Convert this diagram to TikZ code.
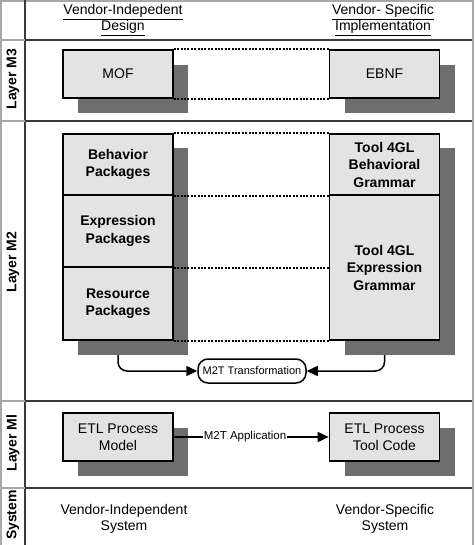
\documentclass[tikz,border=0pt]{standalone}
\usepackage{fontspec}
\setmainfont{Liberation Sans}
\usetikzlibrary{arrows.meta}
\definecolor{boxfill}{HTML}{E3E3E3}
\definecolor{shadowfill}{HTML}{6E6E6E}
\definecolor{framegray}{HTML}{A8A8A8}
\definecolor{rulegray}{HTML}{3A3A3A}
\tikzset{
  boxstyle/.style={draw=black, fill=boxfill, line width=1.6pt, minimum width=110pt, inner sep=0pt, align=center, font=\fontsize{14}{16.5}\selectfont},
  boldbox/.style={boxstyle, font=\fontsize{14}{17.5}\selectfont\bfseries},
  shadowbox/.style={fill=shadowfill, draw=none, minimum width=110pt, inner sep=0pt},
  dotline/.style={line width=2pt, dash pattern=on 2pt off 1.4pt, black},
  rowlabel/.style={rotate=90, font=\fontsize{14}{16}\selectfont\bfseries},
  plaintext/.style={align=center, font=\fontsize{14}{16}\selectfont},
  conn/.style={line width=1.5pt, black, -{Triangle[length=11pt,width=10pt]}},
}
\begin{document}
\begin{tikzpicture}[x=1pt,y=-1pt]
\useasboundingbox (0,0) rectangle (474,545);
% frame and grid
\draw[framegray, line width=2.2pt] (1.1,546) -- (1.1,1.1) -- (472.9,1.1) -- (472.9,546);
\coordinate (vt) at (25,0);
\coordinate (vb) at (25,545);
\draw[rulegray, line width=1.5pt] (vt) -- (vb);
\foreach \yy in {40,121,401,488}{
  \draw[framegray, line width=1.5pt] (2,\yy) -- (25,\yy);
  \draw[rulegray, line width=1.5pt] (25,\yy) -- (472,\yy);
}
% header
\node[plaintext] (hl) at (123,20) {\underline{Vendor-Indepedent}\\\underline{Design}};
\node[plaintext] (hr) at (383,20) {\underline{Vendor- Specific}\\\underline{Implementation}};
% row labels
\node[rowlabel] (l3) at (13,79) {Layer M3};
\node[rowlabel] (l2) at (13,262) {Layer M2};
\node[rowlabel] (l1) at (13,443) {Layer Ml};
\node[rowlabel] (ls) at (13,515) {System};
% M3
\node[shadowbox, minimum height=48pt] (mofs) at (133,89) {};
\node[shadowbox, minimum height=48pt] (ebnfs) at (399.5,89) {};
\node[boxstyle, minimum height=48pt] (mof) at (118,74) {MOF};
\node[boxstyle, minimum height=48pt] (ebnf) at (384.5,74) {EBNF};
\draw[dotline] (mof.north east) -- (ebnf.north west);
\draw[dotline] (mof.south east) -- (ebnf.south west);
% M2
\node[shadowbox, minimum height=207pt] (ls2) at (133,251.5) {};
\node[shadowbox, minimum height=207pt] (rs2) at (399.5,251.5) {};
\node[boldbox, minimum height=61pt] (beh) at (118,164.5) {Behavior\\Packages};
\node[boldbox, minimum height=72pt] (expr) at (118,231) {Expression\\Packages};
\node[boldbox, minimum height=73pt] (res) at (118,303.5) {Resource\\Packages};
\node[boldbox, minimum height=61pt] (tbeh) at (384.5,164.5) {Tool 4GL\\Behavioral\\Grammar};
\node[boldbox, minimum height=145pt] (texpr) at (384.5,267.5) {Tool 4GL\\Expression\\Grammar};
\draw[dotline] (beh.north east) -- (tbeh.north west);
\draw[dotline] (beh.south east) -- (tbeh.south west);
\draw[dotline] (expr.south east) -- (expr.south east -| texpr.west);
\draw[dotline] (res.south east) -- (texpr.south west);
% M2T transformation
\node[draw=black, fill=white, line width=1.5pt, rounded corners=10pt, minimum width=108pt, minimum height=24pt, inner sep=0pt, font=\fontsize{11}{13}\selectfont] (m2t) at (252,371) {M2T Transformation};
\draw[conn, rounded corners=9pt] (ls2.south -| res.south) |- (m2t.west);
\draw[conn, rounded corners=9pt] (rs2.south -| texpr.south) |- (m2t.east);
% M1
\node[shadowbox, minimum height=48pt] (etls) at (133,452) {};
\node[shadowbox, minimum height=48pt] (tcs) at (399.5,452) {};
\node[boxstyle, minimum height=48pt] (etl) at (118,437) {ETL Process\\Model};
\node[boxstyle, minimum height=48pt] (tc) at (384.5,437) {ETL Process\\Tool Code};
\draw[conn] (etl.east) -- node[pos=0.46, fill=white, inner sep=1pt, font=\fontsize{11.5}{13}\selectfont] (app) {M2T Application} (tc.west);
% System
\node[plaintext] (sl) at (124,519) {Vendor-Independent\\System};
\node[plaintext] (sr) at (385,519) {Vendor-Specific\\System};
\end{tikzpicture}
\end{document}
